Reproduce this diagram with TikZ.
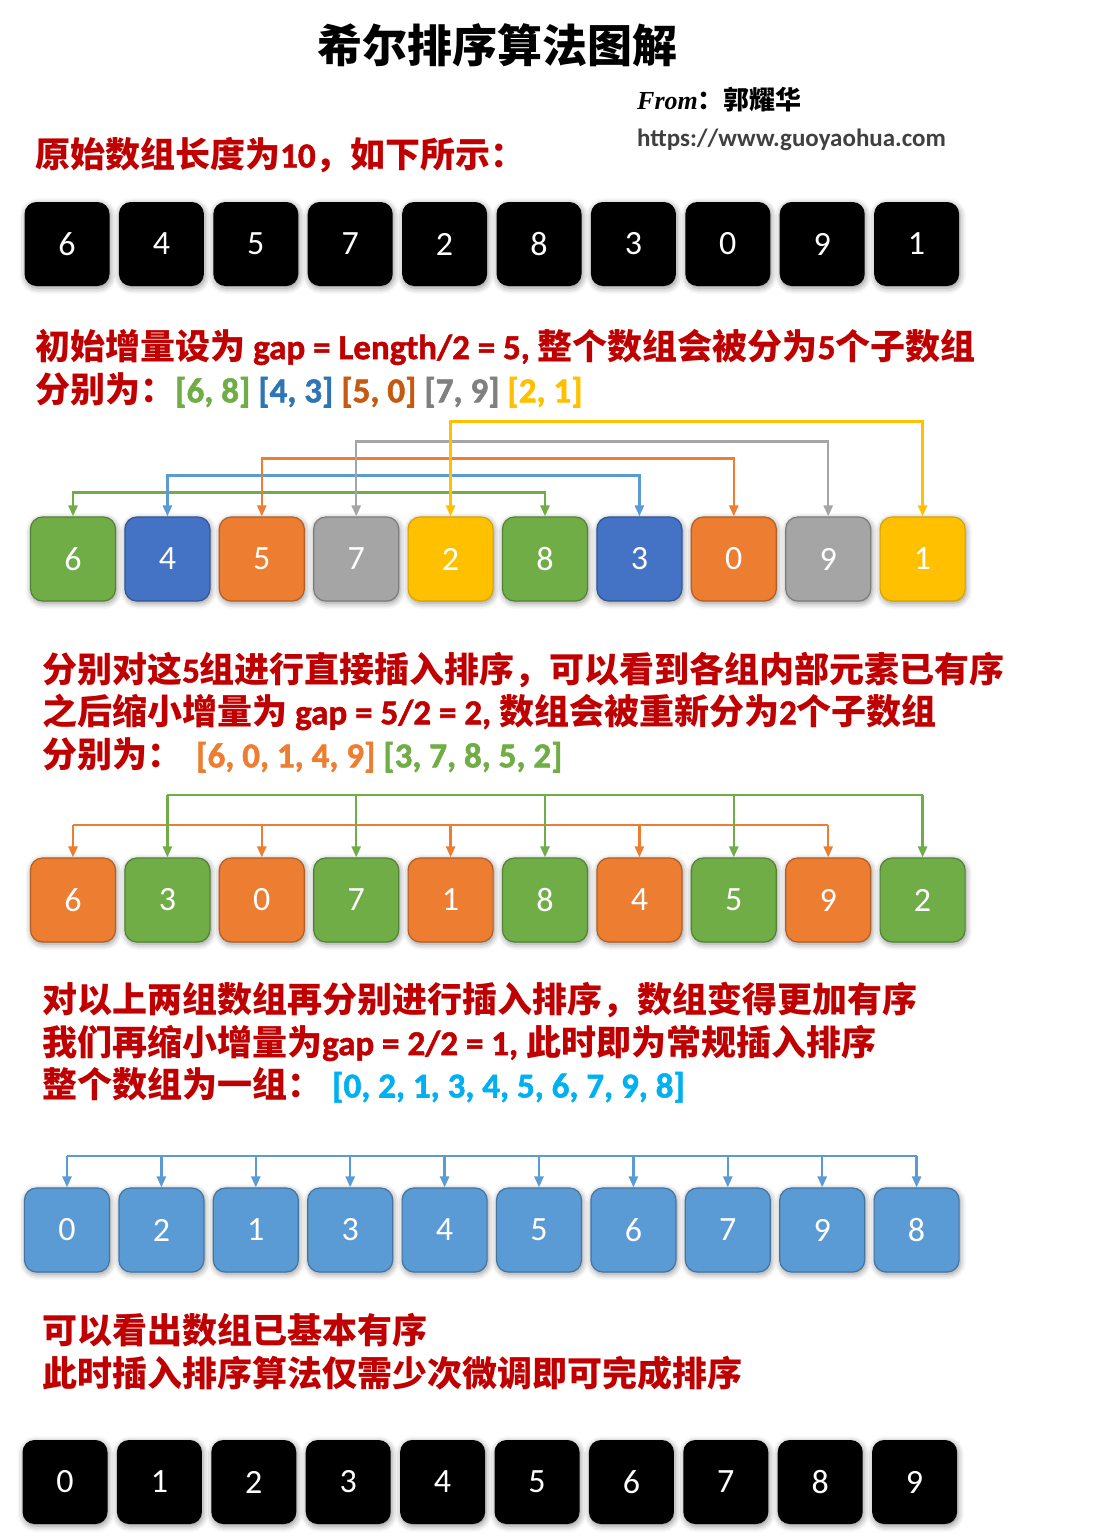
\documentclass[tikz,border=0pt]{standalone}
\usepackage{fontspec}
\setmainfont{Carlito}
\newfontfamily\cjk{Noto Sans CJK SC}
\newfontfamily\latf{Carlito}[BoldFeatures={FakeBold=1.5}]
\newfontfamily\fromf{Liberation Serif}
\newcommand\lat[1]{{\latf\bfseries #1}}
\usetikzlibrary{arrows.meta,shadows.blur}
\definecolor{redtxt}{HTML}{C00000}
\definecolor{grnc}{HTML}{70AD47}
\definecolor{bluc}{HTML}{4472C4}
\definecolor{lbluc}{HTML}{5B9BD5}
\definecolor{orac}{HTML}{ED7D31}
\definecolor{gryc}{HTML}{A5A5A5}
\definecolor{yelc}{HTML}{FFC000}
\definecolor{skyc}{HTML}{00B0F0}
\definecolor{blutxt}{HTML}{2E75B6}
\definecolor{oratxt}{HTML}{C55A11}
\tikzset{
  numbox/.style={rounded corners=12pt, minimum width=85pt, minimum height=84pt,
    inner sep=0pt, text=white, font=\fontsize{34}{34}\selectfont,
    blur shadow={shadow blur radius=6pt, shadow xshift=1pt, shadow yshift=-2pt, shadow opacity=45}},
  blk/.style={numbox, fill=black},
  grn/.style={numbox, fill=grnc, draw=grnc!75!black, line width=1.2pt},
  blu/.style={numbox, fill=bluc, draw=bluc!75!black, line width=1.2pt},
  lblu/.style={numbox, fill=lbluc, draw=lbluc!75!black, line width=1.2pt},
  ora/.style={numbox, fill=orac, draw=orac!75!black, line width=1.2pt},
  gry/.style={numbox, fill=gryc, draw=gryc!75!black, line width=1.2pt},
  yel/.style={numbox, fill=yelc, draw=yelc!85!black, line width=1.2pt},
  txt/.style={anchor=west, inner sep=0pt, text=redtxt, font=\cjk\bfseries\fontsize{35}{35}\selectfont},
  link/.style={line width=2.5pt},
  arr/.style={link, -{Triangle[length=11pt,width=9pt]}},
  darr/.style={link, {Triangle[length=11pt,width=9pt]}-{Triangle[length=11pt,width=9pt]}},
}
\begin{document}
\begin{tikzpicture}[x=1pt,y=-1pt]
  \useasboundingbox (0,0) rectangle (1105,1536);
  % header
  \node[font=\cjk\bfseries\fontsize{45}{45}\selectfont] (title) at (497,45) {希尔排序算法图解};
  \node[anchor=west, inner sep=0pt, font=\fontsize{26}{26}\selectfont] (from) at (637,100)
    {{\fromf\itshape\bfseries From}{\cjk\bfseries ：郭耀华}};
  \node[anchor=west, inner sep=0pt, text=black!75, font=\bfseries\fontsize{25}{25}\selectfont] (url) at (637,140)
    {https://www.guoyaohua.com};
  \node[txt] (t1) at (35,155) {原始数组长度为\lat{10}，如下所示：};
  % original array
  \foreach \v [count=\i from 0] in {6,4,5,7,2,8,3,0,9,1}
    \node[blk] (a\i) at (67+94.4*\i,244) {\v};
  % gap = 5
  \node[txt] (t2) at (35,347) {初始增量设为 \lat{gap = Length/2 = 5,} 整个数组会被分为\lat{5}个子数组};
  \node[txt] (t3) at (35,390) {分别为：\lat{\color{grnc}[6, 8] \color{blutxt}[4, 3] \color{oratxt}[5, 0] \color{black!50}[7, 9] \color{yelc}[2, 1]}};
  \foreach \v/\s [count=\i from 0] in {6/grn,4/blu,5/ora,7/gry,2/yel,8/grn,3/blu,0/ora,9/gry,1/yel}
    \node[\s] (b\i) at (73+94.4*\i,559) {\v};
  \draw[darr, grnc] (b0.north) -- ++(0,-24) -| (b5.north);
  \draw[darr, lbluc] (b1.north) -- ++(0,-41) -| (b6.north);
  \draw[darr, orac] (b2.north) -- ++(0,-58) -| (b7.north);
  \draw[darr, gryc] (b3.north) -- ++(0,-75) -| (b8.north);
  \draw[darr, yelc] (b4.north) -- ++(0,-95) -| (b9.north);
  % gap = 2
  \node[txt] (t4) at (42,670) {分别对这\lat{5}组进行直接插入排序，可以看到各组内部元素已有序};
  \node[txt] (t5) at (42,712) {之后缩小增量为 \lat{gap = 5/2 = 2,} 数组会被重新分为\lat{2}个子数组};
  \node[txt] (t6) at (42,755) {分别为：\hspace{14pt}\lat{\color{orac}[6, 0, 1, 4, 9] \color{grnc}[3, 7, 8, 5, 2]}};
  \foreach \v/\s [count=\i from 0] in {6/ora,3/grn,0/ora,7/grn,1/ora,8/grn,4/ora,5/grn,9/ora,2/grn}
    \node[\s] (c\i) at (73+94.4*\i,900) {\v};
  \coordinate (olev) at (0,825);
  \coordinate (glev) at (0,795);
  \draw[link, orac] (c0.north |- olev) -- (c8.north |- olev);
  \draw[link, grnc] (c1.north |- glev) -- (c9.north |- glev);
  \foreach \i in {0,2,4,6,8}
    \draw[arr, orac] (c\i.north |- olev) -- (c\i.north);
  \foreach \i in {1,3,5,7,9}
    \draw[arr, grnc] (c\i.north |- glev) -- (c\i.north);
  % gap = 1
  \node[txt] (t7) at (42,1000) {对以上两组数组再分别进行插入排序，数组变得更加有序};
  \node[txt] (t8) at (42,1043) {我们再缩小增量为\lat{gap = 2/2 = 1,} 此时即为常规插入排序};
  \node[txt] (t9) at (42,1085) {整个数组为一组：\hspace{10pt}\lat{\color{skyc}[0, 2, 1, 3, 4, 5, 6, 7, 9, 8]}};
  \foreach \v [count=\i from 0] in {0,2,1,3,4,5,6,7,9,8}
    \node[lblu] (d\i) at (67+94.4*\i,1230) {\v};
  \coordinate (llev) at (0,1156);
  \draw[link, lbluc] (d0.north |- llev) -- (d9.north |- llev);
  \foreach \i in {0,...,9}
    \draw[arr, lbluc] (d\i.north |- llev) -- (d\i.north);
  % result
  \node[txt] (t10) at (42,1330) {可以看出数组已基本有序};
  \node[txt] (t11) at (42,1373) {此时插入排序算法仅需少次微调即可完成排序};
  \foreach \v [count=\i from 0] in {0,...,9}
    \node[blk] (e\i) at (65+94.4*\i,1482) {\v};
\end{tikzpicture}
\end{document}
